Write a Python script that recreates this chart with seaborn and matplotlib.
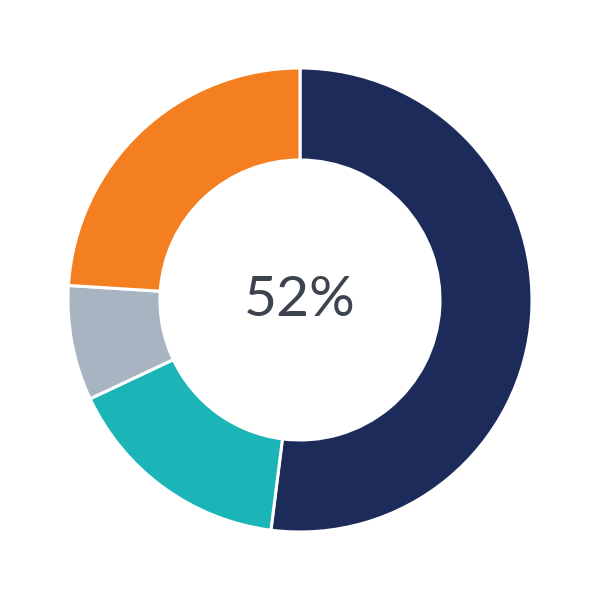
import seaborn as sns
import matplotlib.pyplot as plt

sns.set_style("white")
plt.rcParams['font.family'] = ['Lato', 'DejaVu Sans']

# segments, clockwise from 12 o'clock
labels = ["Navy", "Teal", "Gray", "Orange"]
values = [52, 16, 8, 24]
colors = ["#1c2b5a", "#1bb5b8", "#a9b4c2", "#f47f20"]
center_text = "52%"

fig = plt.figure(figsize=(6, 6), dpi=100)
ax = fig.add_axes([0, 0, 1, 1])

ax.pie(values, colors=colors, startangle=90, counterclock=False,
       radius=232, wedgeprops=dict(width=92, edgecolor="white", linewidth=2.2))
ax.text(0, 0, center_text, ha="center", va="center", fontsize=41,
        color="#3d4450", fontweight="normal")

ax.set_xlim(-300, 300)
ax.set_ylim(-300, 300)
ax.set_aspect("equal")
ax.axis("off")

fig.savefig("out.png", dpi=100, facecolor="white")
